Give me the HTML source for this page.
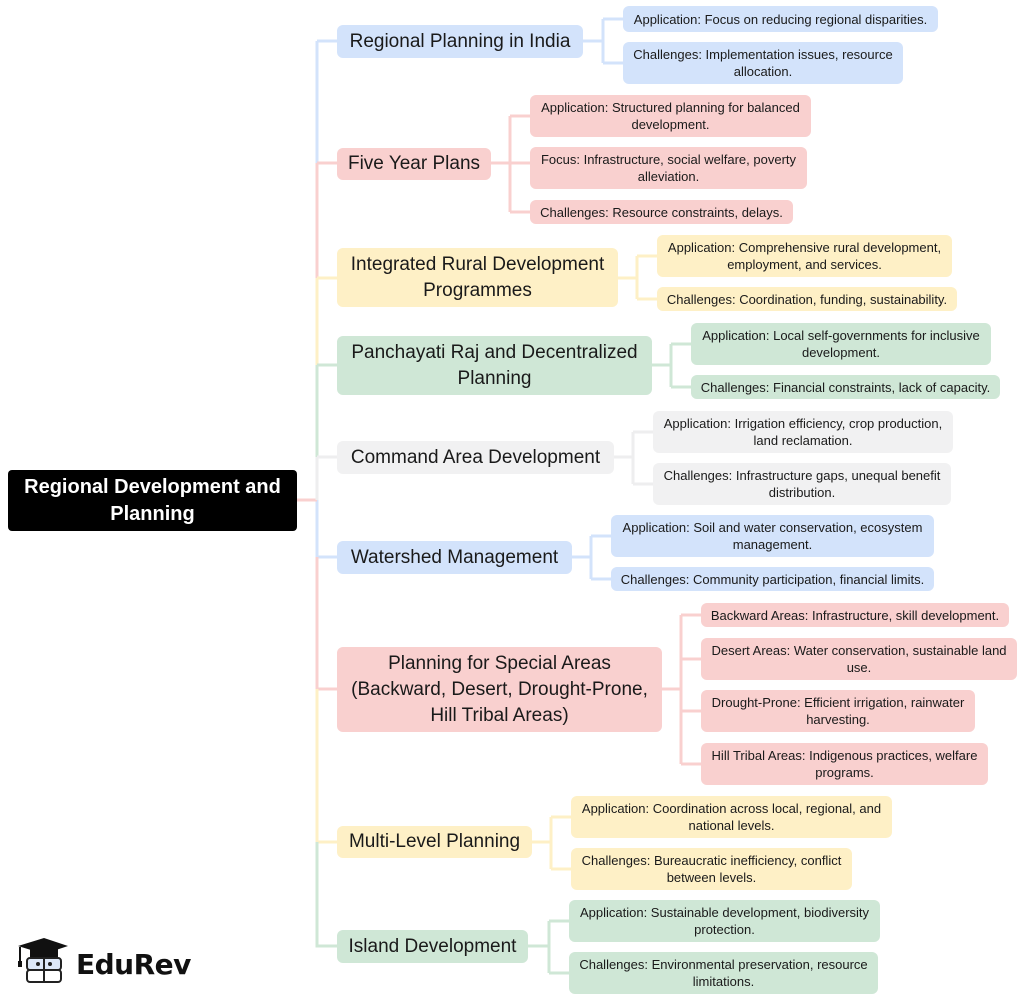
<!DOCTYPE html>
<html><head><meta charset="utf-8"><style>
body{margin:0;width:1024px;height:1002px;background:#fff;position:relative;overflow:hidden;font-family:"Liberation Sans",Arial,sans-serif}
.b{position:absolute;box-sizing:border-box;border-radius:6px;display:flex;align-items:center;justify-content:center;text-align:center;color:#1a1a1a}
.m{font-size:19px;line-height:26px;padding:0 9px}
.c{font-size:13px;line-height:17px;padding:0 7px}
.bl{background:#d3e3fb}.rd{background:#f9d0cf}.yl{background:#fef0c6}.gr{background:#cfe7d6}.gy{background:#f1f1f2}
svg{position:absolute;left:0;top:0}
</style></head><body>
<svg width="1024" height="1002" fill="none" stroke-width="3">
<g stroke="#d3e3fb"><path d="M317 41V163M317 41H337M317 500V557H337M583 41H603M603 19V63M603 19H623M603 63H623M572 557H591M591 536V579M591 536H611M591 579H611"/></g>
<g stroke="#f9d0cf"><path d="M317 163V278M317 163H337M297 500H317M317 557V689H337M491 163H510M510 116V212M510 116H530M510 163H530M510 212H530M662 689H681M681 615V764M681 615H701M681 659H701M681 711H701M681 764H701"/></g>
<g stroke="#fef0c6"><path d="M317 278V365M317 278H337M618 278H637M637 256V299M637 256H657M637 299H657M317 689V842H337M532 842H551M551 817V869M551 817H571M551 869H571"/></g>
<g stroke="#cfe7d6"><path d="M317 365V457M317 365H337M652 365H671M671 344V387M671 344H691M671 387H691M317 842V946H337M528 946H549M549 921V973M549 921H569M549 973H569"/></g>
<g stroke="#eeeeef"><path d="M317 457V500M317 457H337M614 457H633M633 432V484M633 432H653M633 484H653"/></g>
</svg>
<div class="b" style="left:8px;top:470px;width:289px;height:61px;background:#000;color:#fff;font-weight:bold;font-size:20px;line-height:27px;border-radius:4px">Regional Development and Planning</div>

<div class="b m bl" style="left:337px;top:25px;width:246px;height:33px">Regional Planning in India</div>
<div class="b m rd" style="left:337px;top:148px;width:154px;height:32px">Five Year Plans</div>
<div class="b m yl" style="left:337px;top:248px;width:281px;height:59px">Integrated Rural Development Programmes</div>
<div class="b m gr" style="left:337px;top:336px;width:315px;height:59px">Panchayati Raj and Decentralized Planning</div>
<div class="b m gy" style="left:337px;top:441px;width:277px;height:33px">Command Area Development</div>
<div class="b m bl" style="left:337px;top:541px;width:235px;height:33px">Watershed Management</div>
<div class="b m rd" style="left:337px;top:647px;width:325px;height:85px">Planning for Special Areas (Backward, Desert, Drought-Prone, Hill Tribal Areas)</div>
<div class="b m yl" style="left:337px;top:826px;width:195px;height:32px">Multi-Level Planning</div>
<div class="b m gr" style="left:337px;top:930px;width:191px;height:33px">Island Development</div>

<div class="b c bl" style="left:623px;top:6px;width:315px;height:26px">Application: Focus on reducing regional disparities.</div>
<div class="b c bl" style="left:623px;top:42px;width:280px;height:42px">Challenges: Implementation issues, resource allocation.</div>

<div class="b c rd" style="left:530px;top:95px;width:281px;height:42px">Application: Structured planning for balanced development.</div>
<div class="b c rd" style="left:530px;top:147px;width:277px;height:42px">Focus: Infrastructure, social welfare, poverty alleviation.</div>
<div class="b c rd" style="left:530px;top:200px;width:263px;height:24px">Challenges: Resource constraints, delays.</div>

<div class="b c yl" style="left:657px;top:235px;width:295px;height:42px">Application: Comprehensive rural development, employment, and services.</div>
<div class="b c yl" style="left:657px;top:287px;width:300px;height:24px">Challenges: Coordination, funding, sustainability.</div>

<div class="b c gr" style="left:691px;top:323px;width:300px;height:42px">Application: Local self-governments for inclusive development.</div>
<div class="b c gr" style="left:691px;top:375px;width:309px;height:24px">Challenges: Financial constraints, lack of capacity.</div>

<div class="b c gy" style="left:653px;top:411px;width:300px;height:42px">Application: Irrigation efficiency, crop production, land reclamation.</div>
<div class="b c gy" style="left:653px;top:463px;width:298px;height:42px">Challenges: Infrastructure gaps, unequal benefit distribution.</div>

<div class="b c bl" style="left:611px;top:515px;width:323px;height:42px">Application: Soil and water conservation, ecosystem management.</div>
<div class="b c bl" style="left:611px;top:567px;width:323px;height:24px">Challenges: Community participation, financial limits.</div>

<div class="b c rd" style="left:701px;top:603px;width:308px;height:24px">Backward Areas: Infrastructure, skill development.</div>
<div class="b c rd" style="left:701px;top:638px;width:316px;height:42px">Desert Areas: Water conservation, sustainable land use.</div>
<div class="b c rd" style="left:701px;top:690px;width:274px;height:42px">Drought-Prone: Efficient irrigation, rainwater harvesting.</div>
<div class="b c rd" style="left:701px;top:743px;width:287px;height:42px">Hill Tribal Areas: Indigenous practices, welfare programs.</div>

<div class="b c yl" style="left:571px;top:796px;width:321px;height:42px">Application: Coordination across local, regional, and national levels.</div>
<div class="b c yl" style="left:571px;top:848px;width:281px;height:42px">Challenges: Bureaucratic inefficiency, conflict between levels.</div>

<div class="b c gr" style="left:569px;top:900px;width:311px;height:42px">Application: Sustainable development, biodiversity protection.</div>
<div class="b c gr" style="left:569px;top:952px;width:309px;height:42px">Challenges: Environmental preservation, resource limitations.</div>

<svg width="70" height="60" style="left:14px;top:936px">
<polygon points="4,10 30,2 54,10 30,18" fill="#111"/>
<rect x="16" y="12" width="28" height="10" fill="#111"/>
<line x1="6" y1="11" x2="6" y2="26" stroke="#111" stroke-width="2"/>
<rect x="4" y="25" width="4" height="6" fill="#111"/>
<rect x="13" y="22" width="34" height="12" rx="3" fill="#dde8f8" stroke="#222" stroke-width="2"/>
<rect x="13" y="34" width="34" height="12" rx="3" fill="#fff" stroke="#222" stroke-width="2"/>
<line x1="30" y1="22" x2="30" y2="46" stroke="#222" stroke-width="2"/>
<circle cx="24" cy="28" r="2" fill="#222"/><circle cx="36" cy="28" r="2" fill="#222"/>
</svg>
<div style="position:absolute;left:76px;top:948px;font-size:28px;font-weight:bold;color:#111;font-family:'DejaVu Sans','Liberation Sans',sans-serif;letter-spacing:-0.5px">EduRev</div>
</body></html>
